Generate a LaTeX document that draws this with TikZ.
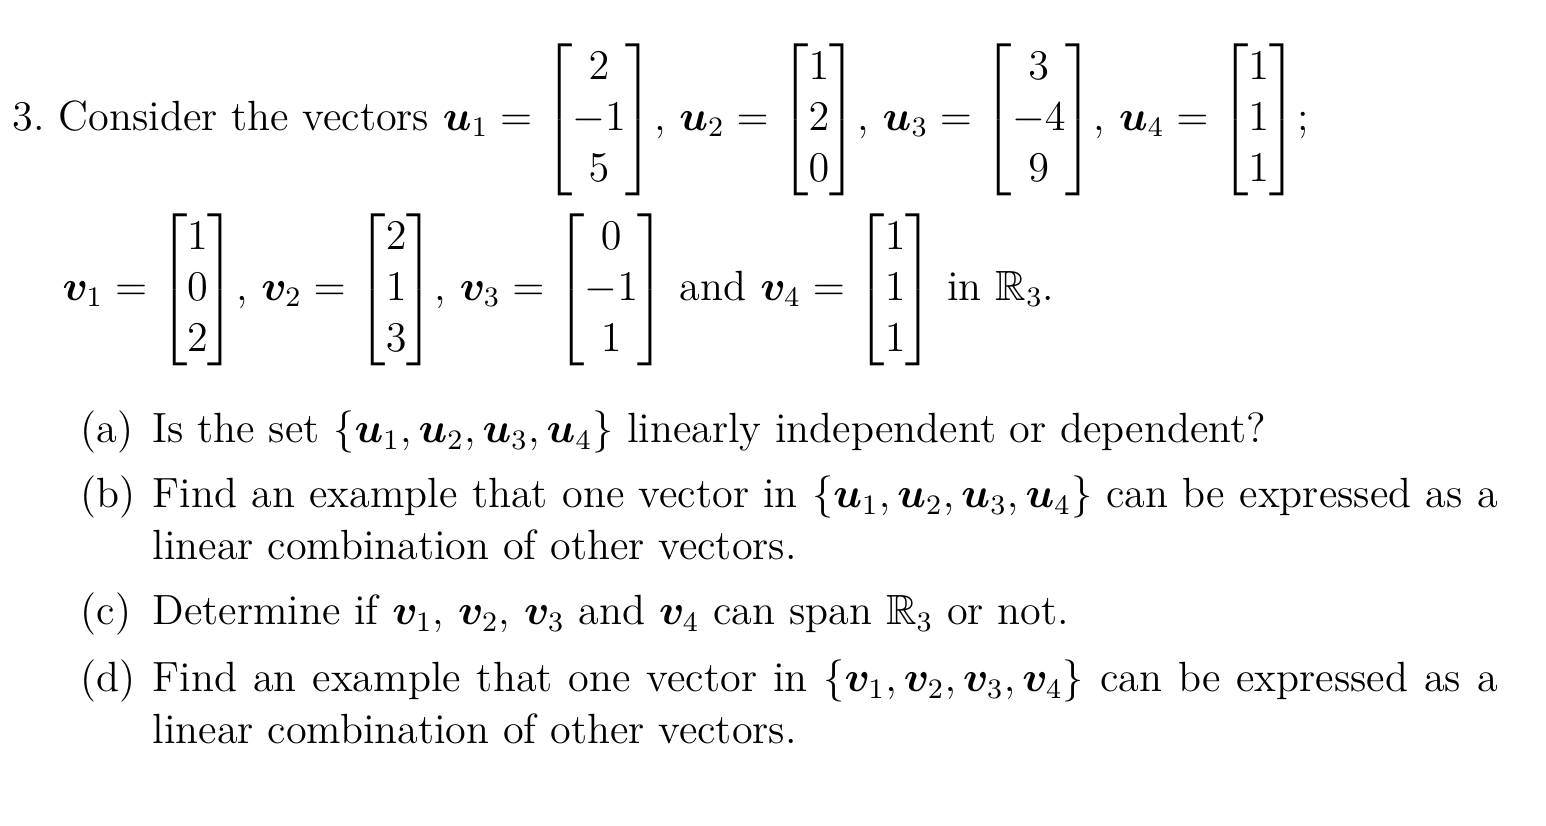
\documentclass[tikz,border=0pt]{standalone}
\usepackage{amsmath,amssymb,bm}
\begin{document}
\begin{tikzpicture}[x=0.284pt,y=-0.284pt,
  t/.style={anchor=base west,inner sep=0pt,font=\fontsize{12}{14.5}\selectfont},
  p/.style={t,text width=382pt,align=justify}]
\useasboundingbox (0,0) rectangle (1546,826);
\node[t,anchor=west] (l1) at (12,120) {3.\ Consider the vectors $\bm{u}_1=\begin{bmatrix}2\\-1\\5\end{bmatrix}$, $\bm{u}_2=\begin{bmatrix}1\\2\\0\end{bmatrix}$, $\bm{u}_3=\begin{bmatrix}3\\-4\\9\end{bmatrix}$, $\bm{u}_4=\begin{bmatrix}1\\1\\1\end{bmatrix}$;};
\node[t,anchor=west] (l2) at (62,290) {$\bm{v}_1=\begin{bmatrix}1\\0\\2\end{bmatrix}$, $\bm{v}_2=\begin{bmatrix}2\\1\\3\end{bmatrix}$, $\bm{v}_3=\begin{bmatrix}0\\-1\\1\end{bmatrix}$ and $\bm{v}_4=\begin{bmatrix}1\\1\\1\end{bmatrix}$ in $\mathbb{R}_3$.};
\node[t] (a) at (80,443) {(a)};
\node[p] (at) at (152,443) {Is the set $\{\bm{u}_1,\bm{u}_2,\bm{u}_3,\bm{u}_4\}$ linearly independent or dependent?};
\node[t] (b) at (80,508) {(b)};
\node[p] (bt) at (152,508) {Find an example that one vector in $\{\bm{u}_1,\bm{u}_2,\bm{u}_3,\bm{u}_4\}$ can be expressed as a linear combination of other vectors.};
\node[t] (c) at (80,625) {(c)};
\node[p] (ct) at (152,625) {Determine if $\bm{v}_1$, $\bm{v}_2$, $\bm{v}_3$ and $\bm{v}_4$ can span $\mathbb{R}_3$ or not.};
\node[t] (d) at (80,692) {(d)};
\node[p] (dt) at (152,692) {Find an example that one vector in $\{\bm{v}_1,\bm{v}_2,\bm{v}_3,\bm{v}_4\}$ can be expressed as a linear combination of other vectors.};
\end{tikzpicture}
\end{document}
